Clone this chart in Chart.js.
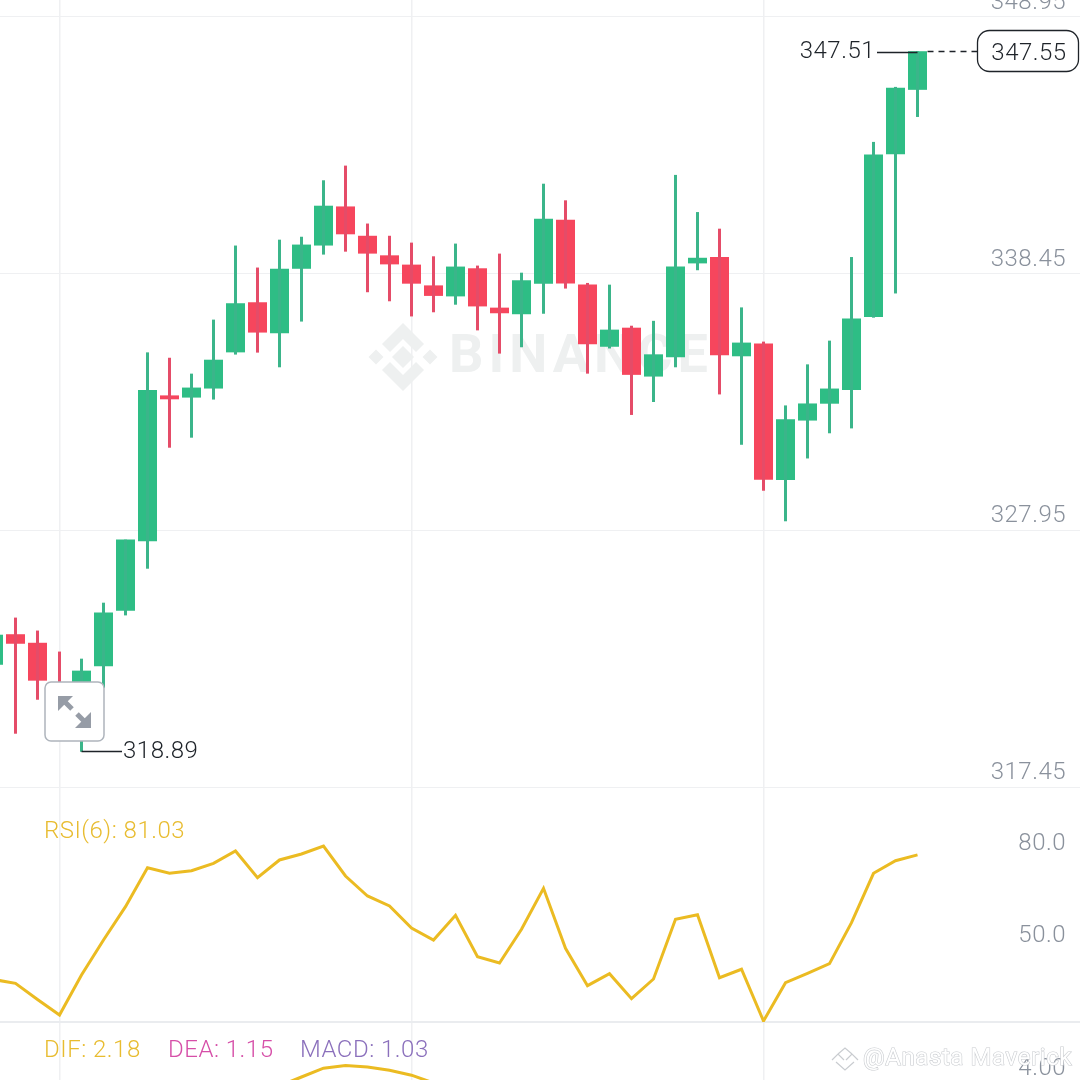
<!DOCTYPE html>
<html>
<head>
<meta charset="utf-8">
<title>Candles</title>
<script src="https://cdn.jsdelivr.net/npm/chart.js@4"></script>
<style>
html,body{margin:0;padding:0;background:#fff;width:1080px;height:1080px;overflow:hidden}
canvas{display:block}
</style>
</head>
<body>
<canvas id="chart" width="1080" height="1100"></canvas>
<script>
// candles, left to right (first one is cut by the left edge)
const opens=[322.45,323.70,323.35,321.68,321.23,322.39,324.66,327.50,333.47,333.38,333.75,335.23,337.28,336.01,338.65,339.60,341.20,340.00,339.20,338.82,337.97,337.52,338.67,337.06,336.79,338.04,340.66,338.01,335.46,336.24,334.24,335.03,338.87,339.13,335.07,335.59,330.01,332.44,333.13,333.69,336.68,343.33,345.97]
const highs=[323.90,324.38,323.85,322.99,322.70,324.99,327.57,335.23,335.01,334.36,336.57,339.60,338.70,339.84,339.96,342.27,342.87,340.50,340.00,339.72,339.16,339.68,338.78,339.27,338.49,342.13,341.45,338.07,338.00,336.32,336.52,342.49,340.97,340.29,337.07,335.67,333.06,334.74,335.71,339.13,343.84,346.09,347.55]
const lows=[322.00,319.63,321.02,320.53,318.89,321.51,324.47,326.38,331.33,331.74,333.30,335.14,335.22,334.62,336.49,339.23,339.35,337.69,337.32,336.70,336.87,337.18,336.13,335.18,335.44,336.81,337.84,334.36,335.39,332.67,333.20,334.62,338.59,333.51,331.45,329.57,328.32,330.89,331.92,332.12,336.65,337.64,344.86]
const closes=[323.68,323.31,321.80,321.43,322.21,324.59,327.57,333.69,333.31,333.79,334.93,337.24,336.04,338.65,339.64,341.23,340.06,339.27,338.83,338.04,337.54,338.74,337.11,336.83,338.18,340.70,338.05,335.56,336.16,334.31,335.15,338.74,339.10,335.11,335.63,330.02,332.49,333.14,333.75,336.62,343.32,346.06,347.55]

const rsi=[40.38,39.14,33.86,28.80,41.85,53.26,64.12,76.84,75.01,75.86,78.27,82.28,73.58,79.35,81.30,83.91,74.13,67.61,64.35,57.17,53.26,61.32,47.82,45.76,56.75,70.12,50.55,38.36,42.27,34.12,40.54,60.01,61.51,40.97,43.71,26.85,39.34,42.40,45.53,58.90,75.01,79.12,81.03]
// only the top of the curve shows above the bottom edge
const dif=[null,null,null,null,null,null,null,null,null,null,null,null,null,3.85,4.30,4.74,4.87,4.80,4.64,4.39,4.00,null,null,null,null,null,null,null,null,null,null,null,null,null,null,null,null,null,null,null,null,null,null]

const priceTicks=[317.45,327.95,338.45,348.95]
const rsiTicks=[50,80]
const macdTicks=[4]
const gridCandles=[3,19,35]

const highLabel="347.51"
const lowLabel="318.89"
const lastLabel="347.55"

const GREEN="#2EBD85"
const RED="#F6465D"
const WICK_GREEN="#3BB58A"
const WICK_RED="#E54C68"
const LINE_YELLOW="#EBBB22"
const GRID="#EFF0F2"
const AXIS_TEXT="#8A919C"
const DARK="#1E2329"
const FONT="Roboto, sans-serif"

const idx=opens.map((_,i)=>i)
const up=idx.map(i=>closes[i]>=opens[i])

// mirrored axes must not eat any chart area
function noMargins(s){
s.width=0
s.paddingLeft=0
s.paddingRight=0
s.paddingTop=0
s.paddingBottom=0
}

const watermark={
id:"watermark",
beforeDraw(c){
c.ctx.letterSpacing="0.5px"
},
beforeDatasetsDraw(c){
let ctx=c.ctx
ctx.save()
ctx.fillStyle="#EEF0F0"
let dia=(x,y,r)=>{
ctx.beginPath()
ctx.moveTo(x,y-r);ctx.lineTo(x+r,y);ctx.lineTo(x,y+r);ctx.lineTo(x-r,y)
ctx.closePath();ctx.fill()
}
let cx=403,cy=357
dia(cx,cy,11)
dia(cx-27,cy,7.5)
dia(cx+27,cy,7.5)
// chevrons
let chev=(s)=>{
ctx.beginPath()
ctx.moveTo(cx,cy-s*34)
ctx.lineTo(cx+21,cy-s*13)
ctx.lineTo(cx+13,cy-s*5)
ctx.lineTo(cx,cy-s*18)
ctx.lineTo(cx-13,cy-s*5)
ctx.lineTo(cx-21,cy-s*13)
ctx.closePath();ctx.fill()
}
chev(1);chev(-1)
ctx.font="700 54px "+FONT
ctx.letterSpacing="5px"
ctx.textBaseline="middle"
ctx.textAlign="left"
ctx.fillText("BINANCE",449,358)
ctx.restore()

// panel separator
ctx.save()
ctx.strokeStyle="#EAECEF"
ctx.lineWidth=2
let y=c.scales.rsi.bottom
ctx.beginPath();ctx.moveTo(0,y);ctx.lineTo(1080,y);ctx.stroke()
ctx.restore()
}
}

const notes={
id:"notes",
afterDraw(c){
let ctx=c.ctx
let x=c.scales.x,y=c.scales.y
ctx.save()
ctx.font="300 24px "+FONT
ctx.letterSpacing="0.5px"
ctx.textBaseline="middle"

// high marker
let last=opens.length-1
let hy=Math.floor(y.getPixelForValue(+highLabel))+0.5
ctx.strokeStyle=DARK
ctx.lineWidth=1.3
ctx.beginPath();ctx.moveTo(877,hy);ctx.lineTo(x.getPixelForValue(last),hy);ctx.stroke()
ctx.fillStyle=DARK
ctx.textAlign="right"
ctx.fillText(highLabel,875,52)

// last price box
let ly=Math.floor(y.getPixelForValue(+lastLabel))+0.5
ctx.setLineDash([6,5])
ctx.beginPath();ctx.moveTo(x.getPixelForValue(last)+10,ly);ctx.lineTo(977,ly);ctx.stroke()
ctx.setLineDash([])
ctx.fillStyle="#fff"
ctx.beginPath();ctx.roundRect(977.5,30.5,101,41,12);ctx.fill();ctx.stroke()
ctx.fillStyle=DARK
ctx.textAlign="center"
ctx.fillText(lastLabel,1029,54)

// low marker
let low=Math.floor(y.getPixelForValue(+lowLabel))+0.5
let lx=x.getPixelForValue(4)
ctx.beginPath();ctx.moveTo(lx,low);ctx.lineTo(122,low);ctx.stroke()
ctx.textAlign="left"
ctx.fillText(lowLabel,123,752)

// indicator legends
ctx.fillStyle="#E8BC30"
ctx.fillText("RSI(6): 81.03",44,832)
ctx.fillText("DIF: 2.18",44,1051)
ctx.fillStyle="#D64FA8"
ctx.fillText("DEA: 1.15",168,1051)
ctx.fillStyle="#8B70BC"
ctx.fillText("MACD: 1.03",300,1051)

// expand button
ctx.fillStyle="#fff"
ctx.strokeStyle="#AEB4BC"
ctx.lineWidth=1.5
ctx.beginPath();ctx.roundRect(45,682,59,59,6);ctx.fill();ctx.stroke()
ctx.fillStyle="#969CA6"
ctx.strokeStyle="#969CA6"
ctx.lineWidth=5
ctx.beginPath();ctx.moveTo(64,701);ctx.lineTo(72,709);ctx.moveTo(77,714);ctx.lineTo(85,722);ctx.stroke()
ctx.beginPath();ctx.moveTo(58,696);ctx.lineTo(73,696);ctx.lineTo(58,711);ctx.closePath();ctx.fill()
ctx.beginPath();ctx.moveTo(91,728);ctx.lineTo(75,728);ctx.lineTo(91,712);ctx.closePath();ctx.fill()

// bottom corner watermark
ctx.strokeStyle="#C9CCD0"
ctx.fillStyle="#fff"
ctx.font="24px "+FONT
ctx.textAlign="left"
ctx.letterSpacing="0.6px"
ctx.lineWidth=1.2
ctx.strokeText("@Anasta Maverick",863,1059)
ctx.fillText("@Anasta Maverick",863,1059)
ctx.restore()
ctx.save()
ctx.strokeStyle="#C9CCD0"
ctx.lineWidth=1.2
ctx.beginPath()
ctx.moveTo(832,1060);ctx.lineTo(838,1054);ctx.lineTo(844,1060)
ctx.moveTo(838,1054);ctx.lineTo(845,1048);ctx.lineTo(852,1054)
ctx.moveTo(846,1060);ctx.lineTo(852,1054);ctx.lineTo(858,1060)
ctx.moveTo(836,1062);ctx.lineTo(845,1070);ctx.lineTo(854,1062)
ctx.stroke()
ctx.restore()
}
}

const axisFont={family:FONT,size:24,weight:"300"}

new Chart(document.getElementById("chart"),{
type:"bar",
data:{
datasets:[
{
label:"wick",
data:idx.map(i=>({x:i,y:[lows[i],highs[i]]})),
backgroundColor:up.map(u=>u?WICK_GREEN:WICK_RED),
barThickness:3,
grouped:false,
inflateAmount:0,
yAxisID:"y"
},
{
label:"body",
data:idx.map(i=>({x:i,y:[opens[i],closes[i]]})),
backgroundColor:up.map(u=>u?GREEN:RED),
barThickness:19,
grouped:false,
inflateAmount:0,
yAxisID:"y"
},
{
type:"line",
label:"RSI(6)",
data:idx.map(i=>({x:i,y:rsi[i]})),
borderColor:LINE_YELLOW,
borderWidth:3,
pointRadius:0,
tension:0,
yAxisID:"rsi"
},
{
type:"line",
label:"DIF",
data:idx.map(i=>({x:i,y:dif[i]})),
borderColor:LINE_YELLOW,
borderWidth:3,
pointRadius:0,
tension:0,
yAxisID:"macd"
}
]
},
options:{
responsive:false,
animation:false,
devicePixelRatio:1,
layout:{padding:0},
plugins:{legend:{display:false},tooltip:{enabled:false}},
scales:{
x:{
type:"linear",
offset:false,
min:0.2955,
max:49.386,
afterBuildTicks(s){s.ticks=gridCandles.map(v=>({value:v}))},
afterFit(s){s.height=0;s.paddingLeft=0;s.paddingRight=0;s.paddingTop=0;s.paddingBottom=0},
ticks:{display:false},
grid:{color:GRID,lineWidth:1.5,drawTicks:false,offset:false},
border:{display:false}
},
y:{
position:"right",
stack:"panels",
stackWeight:787,
min:317.45,
max:349.645,
afterBuildTicks(s){s.ticks=priceTicks.map(v=>({value:v}))},
afterFit:noMargins,
ticks:{mirror:true,padding:-14,labelOffset:-14,color:AXIS_TEXT,font:axisFont,callback:v=>v.toFixed(2)},
grid:{color:GRID,drawTicks:false},
border:{display:false}
},
rsi:{
position:"right",
stack:"panels",
stackWeight:235,
min:26.52,
max:103.15,
afterBuildTicks(s){s.ticks=rsiTicks.map(v=>({value:v}))},
afterFit:noMargins,
ticks:{mirror:true,padding:-14,labelOffset:-14,color:AXIS_TEXT,font:axisFont,callback:v=>v.toFixed(1)},
grid:{display:false},
border:{display:false}
},
macd:{
position:"right",
stack:"panels",
stackWeight:78,
min:3.15,
max:7.05,
afterBuildTicks(s){s.ticks=macdTicks.map(v=>({value:v}))},
afterFit:noMargins,
ticks:{mirror:true,padding:-14,labelOffset:-14,color:AXIS_TEXT,font:axisFont,callback:v=>v.toFixed(2)},
grid:{display:false},
border:{display:false}
}
}
},
plugins:[watermark,notes]
})
</script>
</body>
</html>
